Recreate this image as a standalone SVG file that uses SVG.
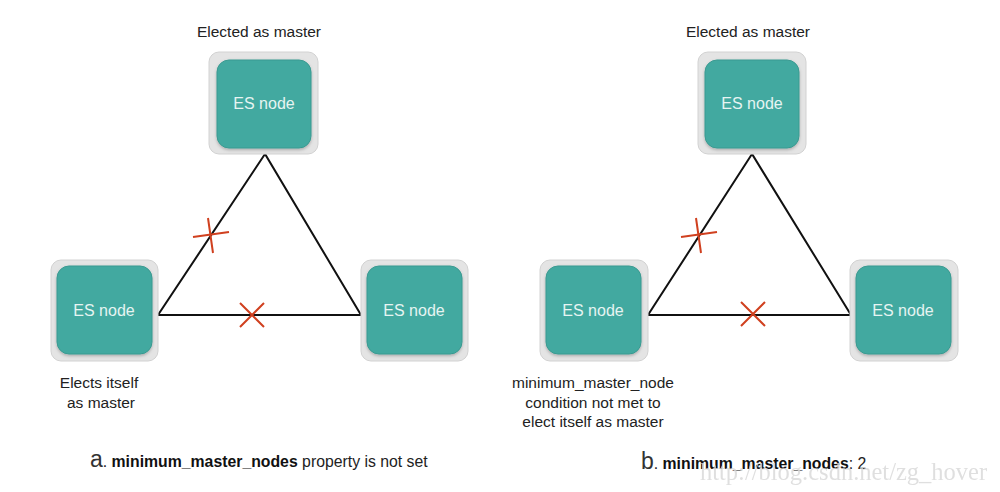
<svg xmlns="http://www.w3.org/2000/svg" width="1000" height="492" viewBox="0 0 1000 492">
<defs>
<style>
.outer{fill:#e4e4e4;stroke:#d2d2d2;stroke-width:1}
.inner{fill:#43a9a0;stroke:#3a9a91;stroke-width:1}
.nt{font-family:"Liberation Sans",Arial,sans-serif;font-size:16px;fill:#e6f4f2;text-anchor:middle}
.lbl{font-family:"Liberation Sans",Arial,sans-serif;font-size:15.5px;fill:#222;text-anchor:middle}
.cap{font-family:"Liberation Sans",Arial,sans-serif;font-size:15.8px;fill:#222}
.edge{stroke:#111;stroke-width:2;fill:none}
.x{stroke:#d0401f;stroke-width:2;fill:none}
</style>
<filter id="sh" x="-20%" y="-20%" width="140%" height="140%">
<feDropShadow dx="0" dy="1.5" stdDeviation="1.5" flood-color="#000" flood-opacity="0.25"/>
</filter>
</defs>
<g id="connectors">
<path class="edge" d="M265,154 L158,315 L361,315 Z"/>
<path class="edge" d="M752,154 L648,315 L851,315 Z"/>
<path class="x" d="M193,237 L229,232 M208,218 L213,253"/>
<path class="x" d="M240,303 L264,327 M264,303 L240,327"/>
<path class="x" d="M681,237 L717,232 M696,218 L701,253"/>
<path class="x" d="M741,302 L765,326 M765,302 L741,326"/>
</g>
<g id="node-a-top">
<rect class="outer" x="209" y="52" width="109" height="102" rx="10"/>
<rect class="inner" x="217" y="60" width="94" height="88" rx="12" filter="url(#sh)"/>
<text class="nt" x="264" y="109">ES node</text>
</g>
<g id="node-a-left">
<rect class="outer" x="51" y="260" width="107" height="101" rx="10"/>
<rect class="inner" x="57" y="266" width="95" height="88" rx="12" filter="url(#sh)"/>
<text class="nt" x="104" y="316">ES node</text>
</g>
<g id="node-a-right">
<rect class="outer" x="361" y="260" width="107" height="101" rx="10"/>
<rect class="inner" x="367" y="266" width="95" height="88" rx="12" filter="url(#sh)"/>
<text class="nt" x="414" y="316">ES node</text>
</g>
<g id="node-b-top">
<rect class="outer" x="698" y="52" width="108" height="102" rx="10"/>
<rect class="inner" x="705" y="60" width="94" height="88" rx="12" filter="url(#sh)"/>
<text class="nt" x="752" y="109">ES node</text>
</g>
<g id="node-b-left">
<rect class="outer" x="540" y="260" width="108" height="101" rx="10"/>
<rect class="inner" x="546" y="266" width="95" height="88" rx="12" filter="url(#sh)"/>
<text class="nt" x="593" y="316">ES node</text>
</g>
<g id="node-b-right">
<rect class="outer" x="850" y="260" width="108" height="101" rx="10"/>
<rect class="inner" x="856" y="266" width="95" height="88" rx="12" filter="url(#sh)"/>
<text class="nt" x="903" y="316">ES node</text>
</g>
<g id="labels">
<text class="lbl" x="259" y="37">Elected as master</text>
<text class="lbl" x="748" y="37">Elected as master</text>
<text class="lbl" x="99" y="388" font-size="14.8">Elects itself</text>
<text class="lbl" x="101" y="408" font-size="14.8">as master</text>
<text class="lbl" x="593" y="388">minimum_master_node</text>
<text class="lbl" x="593" y="408">condition not met to</text>
<text class="lbl" x="593" y="427">elect itself as master</text>
<text class="cap" x="90" y="467"><tspan font-size="23" fill="#333">a</tspan>. <tspan font-weight="bold" fill="#111">minimum_master_nodes</tspan> property is not set</text>
<text class="cap" x="641" y="469"><tspan font-size="23" fill="#333">b</tspan>. <tspan font-weight="bold" fill="#111">minimum_master_nodes</tspan>: 2</text>
<text x="700" y="480" font-family="'Liberation Serif','DejaVu Serif',serif" font-size="24.5" fill="#d8d8d8" opacity="0.8">http://blog.csdn.net/zg_hover</text>
</g>
</svg>
